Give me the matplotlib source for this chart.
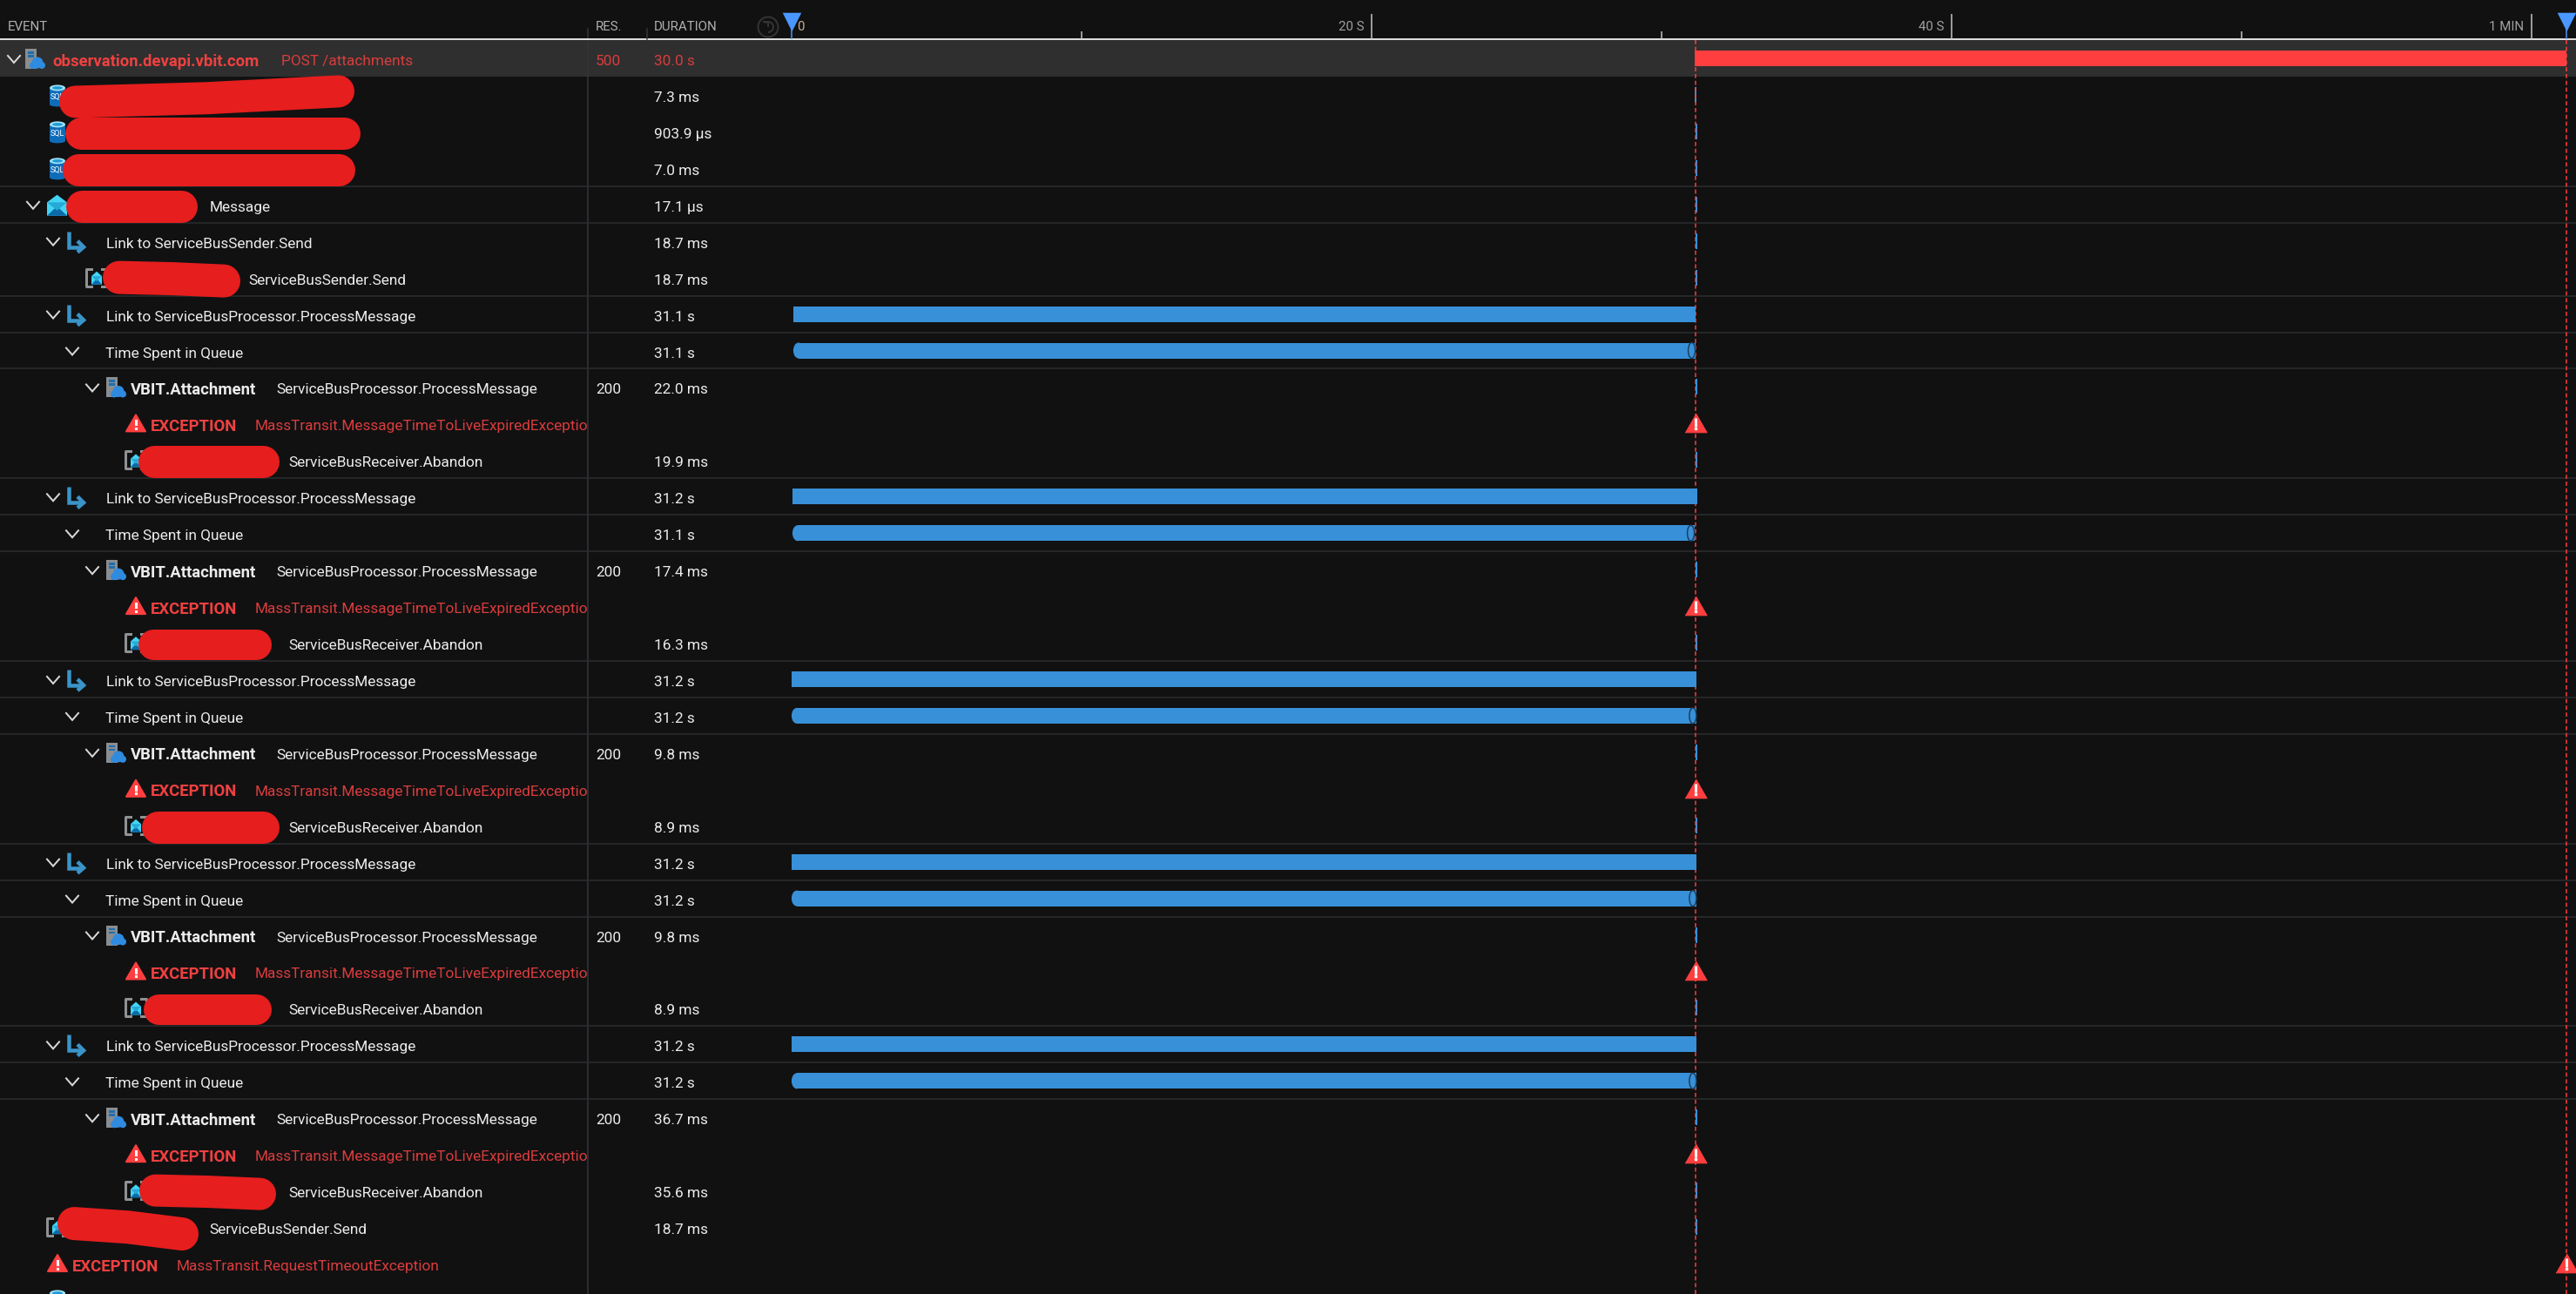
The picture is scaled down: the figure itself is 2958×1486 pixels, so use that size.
#!/usr/bin/env python3
"""End-to-end transaction timeline, dark theme. Two axes: table in pixels, timeline in seconds."""
import matplotlib
matplotlib.use("Agg")
import matplotlib.pyplot as plt
from matplotlib.patches import Circle, Ellipse, Polygon, Rectangle, Arc

plt.rcParams["font.family"] = ["Roboto", "DejaVu Sans"]

# ---- data ----
root_host = "observation.devapi.vbit.com"
root_op = "POST /attachments"
root_res = "500"
root_label = "30.0 s"
root_start = 31.15
root_dur = 30.05

db_labels = ["7.3 ms", "903.9 µs", "7.0 ms"]
db_start = [31.15, 31.17, 31.17]
msg_label = "17.1 µs"

link_send_op = "Link to ServiceBusSender.Send"
send_op = "ServiceBusSender.Send"
send_ms = 18.7
link_op = "Link to ServiceBusProcessor.ProcessMessage"
queue_op = "Time Spent in Queue"
vbit_name = "VBIT.Attachment"
vbit_op = "ServiceBusProcessor.ProcessMessage"
vbit_res = "200"
exc_name = "EXCEPTION"
exc_ttl = "MassTransit.MessageTimeToLiveExpiredException"
exc_timeout = "MassTransit.RequestTimeoutException"
abandon_op = "ServiceBusReceiver.Abandon"

link_start = [0.07, 0.04, 0.01, 0.01, 0.01]
link_dur = [31.1, 31.2, 31.2, 31.2, 31.2]
queue_start = [0.07, 0.04, 0.01, 0.01, 0.01]
queue_dur = [31.1, 31.1, 31.2, 31.2, 31.2]
vbit_ms = [22.0, 17.4, 9.8, 9.8, 36.7]
abandon_ms = [19.9, 16.3, 8.9, 8.9, 35.6]
exc_time = [31.17, 31.17, 31.17, 31.17, 31.17]
timeout_time = 61.2

axis_major = [20, 40, 60]
axis_major_labels = ["20 S", "40 S", "1 MIN"]
axis_minor = [10, 30, 50]
cursor_times = [0, 61.2]

# ---- layout (pixels of the 2958x1486 picture) ----
W, H = 2958, 1486
X0, PX_PER_S = 908.6, 33.3
Y0, ROW_H = 67.0, 41.94
HEAD_Y = 45
COL_RES, COL_DUR, COL_DIV = 684, 751, 675
BG, ROW_SEL, LINE = "#111112", "#2f2f2f", "#2b2d2f"
BLUE, RED, RED_TXT, WHITE = "#3890d8", "#ff3f3f", "#d93c3c", "#ececec"
BLOB = "#e61e1e"
FS = 12.4
FS_BOLD = 13.3
FS_HEAD = 10.8
PT = 0.72   # 1 px at dpi 100, in points

fig = plt.figure(figsize=(W / 100, H / 100), dpi=100, facecolor=BG)
tb = fig.add_axes([0, 0, 1, 1])
tb.set_xlim(0, W); tb.set_ylim(H, 0); tb.axis("off")
ax = fig.add_axes([0, 0, 1, (H - HEAD_Y) / H])
ax.patch.set_visible(False)
ax.set_xlim(-X0 / PX_PER_S, (W - X0) / PX_PER_S)
ax.set_ylim((H - Y0) / ROW_H, (HEAD_Y - Y0) / ROW_H)
for s in ax.spines.values():
    s.set_visible(False)
ax.yaxis.set_visible(False)


def cy(r):
    return Y0 + ROW_H * r


def text(x, r, s, color=WHITE, bold=False, clip=False):
    t = tb.text(x, cy(r) + 3.5, s, color=color, fontsize=FS_BOLD if bold else FS, va="center", ha="left",
                fontweight="bold" if bold else "normal")
    if clip:
        t.set_clip_on(True)
        t.set_clip_path(Rectangle((0, 0), COL_DIV, H, transform=tb.transData))
    return t


def chevron(x, r):
    c = cy(r)
    tb.plot([x - 7, x, x + 7], [c - 3, c + 5, c - 3], color="#d8d8d8", lw=2 * PT, solid_joinstyle="miter")


def app_icon(x, r):
    c = cy(r)
    tb.add_patch(Rectangle((x, c - 11), 13, 23, fc="#8a8d90", ec="none"))
    tb.add_patch(Rectangle((x + 3, c - 8), 7, 2.5, fc="#1c6fb0", ec="none"))
    tb.add_patch(Rectangle((x + 3, c - 4), 7, 2.5, fc="#1c6fb0", ec="none"))
    tb.add_patch(Circle((x + 14, c + 5), 6.5, fc="#2f8be0", ec="none"))
    tb.add_patch(Circle((x + 9, c + 8), 4, fc="#2f8be0", ec="none"))
    tb.add_patch(Circle((x + 19, c + 8), 4, fc="#2f8be0", ec="none"))


def sql_icon(x, r, label=True):
    c = cy(r)
    tb.add_patch(Rectangle((x, c - 8), 18, 19, fc="#0f6cb8", ec="none"))
    tb.add_patch(Ellipse((x + 9, c + 11), 18, 5, fc="#0f6cb8", ec="none"))
    tb.add_patch(Ellipse((x + 9, c - 8), 18, 7, fc="#9fe3f5", ec="none"))
    tb.add_patch(Ellipse((x + 9, c - 8), 12, 3.5, fc="#1f9ad6", ec="none"))
    if label:
        tb.text(x + 1, c + 3, "SQL", color="white", fontsize=6.5, va="center", ha="left")


def mail_icon(x, r, w=23, h=24):
    c = cy(r)
    top, bot = c - h * 0.46, c + h * 0.54
    tb.add_patch(Polygon([(x, top + h * .36), (x + w / 2, top), (x + w, top + h * .36),
                          (x + w, bot), (x, bot)], fc="#42d4f4", ec="none"))
    tb.add_patch(Polygon([(x, bot), (x + w / 2, top + h * .55), (x + w, bot)], fc="#0b6aa8", ec="none"))
    tb.add_patch(Polygon([(x, top + h * .36), (x + w / 2, top + h * .75), (x + w, top + h * .36)],
                         fc="#27a9d8", ec="none"))


def bracket_icon(x, r):
    c = cy(r)
    tb.plot([x + 6, x, x, x + 6], [c - 10, c - 10, c + 10, c + 10], color="#8f9295", lw=3 * PT)
    tb.plot([x + 18, x + 24, x + 24, x + 18], [c - 10, c - 10, c + 10, c + 10], color="#8f9295", lw=3 * PT)
    mail_icon(x + 6, r, 12, 15)


def link_icon(x, r):
    c = cy(r)
    tb.plot([x + 3, x + 3, x + 18], [c - 11, c + 7, c + 7], color="#3a94c8", lw=4.5 * PT,
            solid_joinstyle="miter", solid_capstyle="butt")
    tb.plot([x + 13, x + 20, x + 13], [c, c + 7, c + 13], color="#3a94c8", lw=4.5 * PT,
            solid_joinstyle="miter", solid_capstyle="butt")


TRI = [(-1, -0.82), (1, -0.82), (0, 0.92)]


def warn_icon(x, r):
    c = cy(r)
    tb.add_patch(Polygon([(x - 11, c + 9), (x + 11, c + 9), (x, c - 10)], fc=RED, ec=RED,
                         lw=2 * PT, joinstyle="round"))
    tb.add_patch(Rectangle((x - 1.5, c - 4), 3, 7, fc="white", ec="none"))
    tb.add_patch(Rectangle((x - 1.5, c + 4.5), 3, 3, fc="white", ec="none"))


def blob(x0, x1, r, slant=0.0, thick=37):
    c = cy(r) + 2
    half = thick / 2
    xs = [x0 + half, (x0 + x1) / 2, x1 - half]
    ys = [c + slant, c + slant * 0.3, c - slant]
    tb.plot(xs, ys, color=BLOB, lw=thick * PT, solid_capstyle="round", solid_joinstyle="round", zorder=6)


# ---- header ----
tb.add_patch(Rectangle((0, HEAD_Y + 1), W, ROW_H + 0.5, fc=ROW_SEL, ec="none", zorder=0))
tb.plot([0, W], [HEAD_Y, HEAD_Y], color="#dcdcdc", lw=2 * PT)
for x, s in ((9, "EVENT"), (COL_RES, "RES."), (COL_DUR, "DURATION")):
    tb.text(x, 31, s, color="#b0b0b0", fontsize=FS_HEAD, va="center", ha="left")
tb.plot([COL_DIV, COL_DIV], [33, H], color="#33353a", lw=1.5 * PT, zorder=1)
tb.plot([743, 743], [33, HEAD_Y], color="#33353a", lw=1.5 * PT)
tb.add_patch(Circle((882, 31), 11.5, fc="none", ec="#333436", lw=2 * PT))
tb.add_patch(Arc((882, 31), 12, 12, theta1=-130, theta2=90, ec="#333436", lw=2 * PT))
tb.plot([877, 882, 882], [25, 25, 30], color="#333436", lw=2 * PT)

# ---- table rows ----
chevron(16, 0)
app_icon(29, 0)
text(60, 0, root_host, color="#f04040", bold=True)
text(323, 0, root_op, color=RED_TXT)
text(COL_RES, 0, root_res, color=RED_TXT)
text(COL_DUR, 0, root_label, color=RED_TXT)

for i, lab in enumerate(db_labels):
    sql_icon(57, 1 + i)
    text(COL_DUR, 1 + i, lab)
sql_icon(57, 34, label=False)

chevron(38, 4)
mail_icon(54, 4)
text(241, 4, "Message")
text(COL_DUR, 4, msg_label)

chevron(61, 5)
link_icon(76, 5)
text(122, 5, link_send_op)
text(COL_DUR, 5, f"{send_ms} ms")
bracket_icon(99, 6)
text(285, 6, send_op)
text(COL_DUR, 6, f"{send_ms} ms")

group_rows = [7 + 5 * i for i in range(len(link_dur))]
for i, g in enumerate(group_rows):
    chevron(61, g)
    link_icon(76, g)
    text(122, g, link_op)
    text(COL_DUR, g, f"{link_dur[i]} s")

    chevron(83, g + 1)
    text(121, g + 1, queue_op)
    text(COL_DUR, g + 1, f"{queue_dur[i]} s")

    chevron(106, g + 2)
    app_icon(122, g + 2)
    text(150, g + 2, vbit_name, bold=True)
    text(317, g + 2, vbit_op)
    text(COL_RES, g + 2, vbit_res)
    text(COL_DUR, g + 2, f"{vbit_ms[i]} ms")

    warn_icon(156, g + 3)
    text(173, g + 3, exc_name, color="#f04040", bold=True)
    text(293, g + 3, exc_ttl, color=RED_TXT, clip=True)

    bracket_icon(144, g + 4)
    text(331, g + 4, abandon_op)
    text(COL_DUR, g + 4, f"{abandon_ms[i]} ms")

bracket_icon(54, 32)
text(240, 32, send_op)
text(COL_DUR, 32, f"{send_ms} ms")
warn_icon(66, 33)
text(83, 33, exc_name, color="#f04040", bold=True)
text(203, 33, exc_timeout, color=RED_TXT)

# row separators
sep_rows = [3.5, 4.5, 6.5] + [g + o for g in group_rows for o in (0.5, 1.5)]
sep_rows += [g + 4.5 for g in group_rows[:-1]]
for r in sep_rows:
    tb.plot([0, W], [cy(r), cy(r)], color=LINE, lw=1.5 * PT, zorder=1)

# redaction scribbles
blob(68, 407, 1, slant=6)
blob(74, 413, 2)
blob(71, 407, 3)
blob(75, 226, 4)
blob(118, 276, 6, slant=-2, thick=38)
blob(158, 320, 11)
blob(158, 311, 16, thick=35)
blob(162, 320, 21)
blob(164, 311, 26, thick=35)
blob(160, 317, 31, slant=-2)
blob(66, 228, 32, slant=-6, thick=38)

# ---- timeline ----
ax.set_xticks(axis_major)
ax.set_xticks(axis_minor, minor=True)
ax.xaxis.tick_top()
ax.tick_params(axis="x", which="major", length=29 * PT, width=1.5 * PT, color="#c8c8c8", labeltop=False)
ax.tick_params(axis="x", which="minor", length=9 * PT, width=1.5 * PT, color="#c8c8c8", labeltop=False)
for t, s in zip(axis_major, axis_major_labels):
    ax.text(t - 8 / PX_PER_S, (31 - Y0) / ROW_H, s, color="#a0a0a0", fontsize=FS_HEAD,
            ha="right", va="center", clip_on=False)
ax.text(cursor_times[0] + 7 / PX_PER_S, (31 - Y0) / ROW_H, "0", color="#c0b090", fontsize=FS_HEAD,
        ha="left", va="center", clip_on=False)

BAR_H = 18 / ROW_H
MIN_W = 2 / PX_PER_S

ax.barh(0, root_dur, left=root_start, height=BAR_H, color=RED, zorder=2)

# dashed end markers stay under the tall bars but over the hairline spans
for t in (exc_time[0], timeout_time):
    ax.axvline(t, color=RED, lw=1.5 * PT, dashes=(3.2, 2.0), zorder=3)

# hairline spans
tiny_rows = [1, 2, 3, 4, 6] + [g + 4 for g in group_rows] + [32]
tiny_start = db_start + [31.18, 31.18] + exc_time + [31.18]
ax.barh(tiny_rows, [MIN_W] * len(tiny_rows), left=tiny_start, height=BAR_H, color=BLUE, zorder=2)
solid_rows = [5] + [g + 2 for g in group_rows]
ax.barh(solid_rows, [MIN_W] * len(solid_rows), left=[31.18] * len(solid_rows), height=BAR_H,
        color=BLUE, zorder=4)

ax.barh(group_rows, link_dur, left=link_start, height=BAR_H, color=BLUE, zorder=4)

queue_rows = [g + 1 for g in group_rows]
cap_w = 12 / PX_PER_S
ax.barh(queue_rows, [d - cap_w / 2 for d in queue_dur], left=[s + cap_w / 2 for s in queue_start],
        height=BAR_H, color=BLUE, zorder=4)
for r, s, d in zip(queue_rows, queue_start, queue_dur):
    ax.add_patch(Ellipse((s + cap_w / 2, r), cap_w, BAR_H, fc=BLUE, ec="none", zorder=4))
    ax.add_patch(Ellipse((s + d - 4 / PX_PER_S, r), 8 / PX_PER_S, BAR_H, fc=BLUE, ec="#1b3f5e",
                         lw=1.5 * PT, zorder=5))

# exception markers
exc_rows = [g + 3 for g in group_rows] + [33]
exc_x = exc_time + [timeout_time]
ax.plot(exc_x, exc_rows, ls="none", marker=TRI, ms=18, mfc=RED, mec=RED, mew=0.8, zorder=6, clip_on=False)
ax.plot(exc_x, [r - 0.03 for r in exc_rows], ls="none", marker="|", ms=6.5, mec="white", mew=2.2, zorder=7,
        clip_on=False)
ax.plot(exc_x, [r + 0.14 for r in exc_rows], ls="none", marker="s", ms=2, mfc="white", mec="white",
        zorder=7, clip_on=False)

# range cursors in the header
handle_r = (25 - Y0) / ROW_H
ax.plot(cursor_times, [handle_r] * 2, ls="none", marker=[(-1, 1), (1, 1), (0, -1)], ms=15.5, mfc="#4a98ff",
        mec="none", clip_on=False, zorder=6)
ax.vlines(cursor_times, (HEAD_Y - Y0) / ROW_H, handle_r, color="#4a98ff", lw=1.5 * PT, clip_on=False, zorder=5)

fig.savefig("out.png", dpi=100, facecolor=BG)
